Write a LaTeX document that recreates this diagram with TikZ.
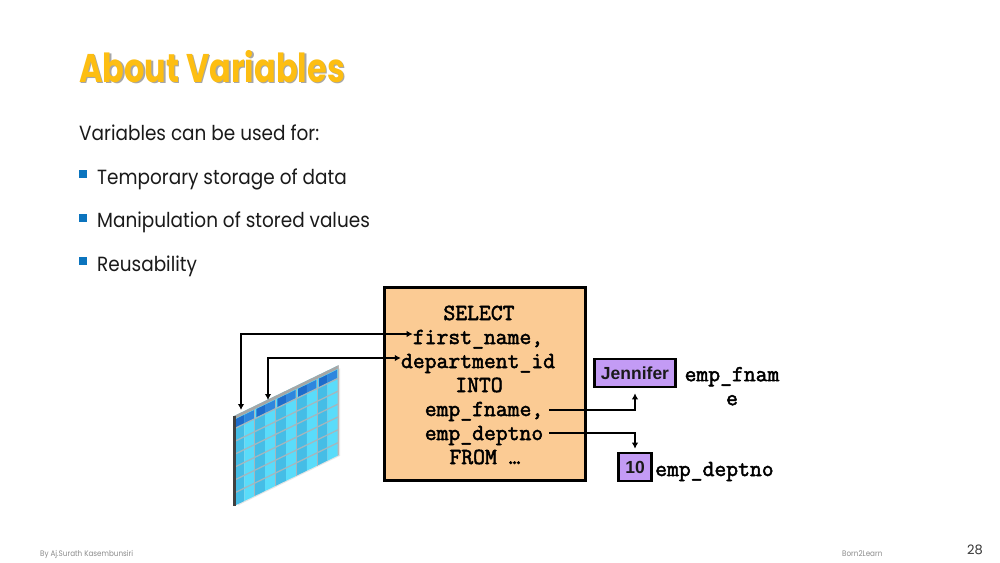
\documentclass[tikz,border=0pt]{standalone}
\usepackage{fontspec}
\setmainfont{Poppins}
\newfontfamily\arialfont{Liberation Sans}
\newfontfamily\narrowbody[FakeStretch=0.9]{Poppins}
\newfontfamily\narrowtitle[FakeStretch=0.8]{Poppins}
\newfontfamily\codefont[FakeBold=2.2]{Latin Modern Mono}
\usetikzlibrary{arrows.meta}
\definecolor{titlegold}{HTML}{FDBE12}
\definecolor{boxorange}{HTML}{FBCB94}
\definecolor{boxpurple}{HTML}{C39BF5}
\definecolor{bulletblue}{HTML}{0B74BE}
\definecolor{inkdark}{HTML}{1A1A1A}
\definecolor{cellA}{HTML}{45BDE6}
\definecolor{cellB}{HTML}{5ADCFA}
\definecolor{headA}{HTML}{1E6CCB}
\definecolor{headB}{HTML}{2E86DE}
\definecolor{gridgrey}{HTML}{A4B6BE}
\newcommand{\quadfill}[5]{\fill[#1] (#2,#4) -- (#3,#4) -- (#3,#5) -- (#2,#5) -- cycle;}
\tikzset{
  x=1pt,y=-1pt,
  bodytext/.style={anchor=base west,inner sep=0pt,text=inkdark,font=\narrowbody\fontsize{20.5}{20.5}\selectfont},
  bulletmark/.style={fill=bulletblue,draw=none,minimum size=7.5pt,inner sep=0pt},
  codeline/.style={inner sep=0pt,text height=12pt,text depth=4pt,font=\codefont\fontsize{23}{23}\selectfont,text=black},
  valuebox/.style={draw=black,line width=2.6pt,fill=boxpurple,inner sep=0pt,font=\arialfont\bfseries\fontsize{17.5}{17.5}\selectfont,text=inkdark},
  link/.style={draw=black,line width=2.8pt},
  tiplink/.style={link,-{Latex[length=6pt,width=6.5pt]}},
  bothlink/.style={link,{Latex[length=6pt,width=6.5pt]}-{Latex[length=6pt,width=6.5pt]}},
  footer/.style={anchor=base west,inner sep=0pt,text=black!45,font=\narrowbody\fontsize{8}{8}\selectfont},
  gridline/.style={draw=gridgrey,line width=1.3pt},
}
\begin{document}
\begin{tikzpicture}
\useasboundingbox (0,0) rectangle (1000,562);
\fill[white] (0,0) rectangle (1000,562);
% title
\node[anchor=base west,inner sep=0pt,text=black!35,font=\narrowtitle\bfseries\fontsize{40}{40}\selectfont] (titleshadow) at (80.5,83.5) {About Variables};
\node[anchor=base west,inner sep=0pt,text=titlegold,font=\narrowtitle\bfseries\fontsize{40}{40}\selectfont] (title) at (79,82) {About Variables};
% body
\node[bodytext] (intro) at (79,140) {Variables can be used for:};
\node[bulletmark] (b1) at (83,174) {};
\node[bodytext] (t1) at (97,184) {Temporary storage of data};
\node[bulletmark] (b2) at (83,218) {};
\node[bodytext] (t2) at (97,227) {Manipulation of stored values};
\node[bulletmark] (b3) at (83,261) {};
\node[bodytext] (t3) at (97,271) {Reusability};
% SQL box
\node[draw=black,line width=3pt,fill=boxorange,minimum width=201pt,minimum height=193pt,inner sep=0pt] (sqlbox) at (484.5,383.5) {};
% table
\begin{scope}[shift={(234,416)},x={(20.8pt,10.1pt)},y={(0pt,-12.86pt)}]
  \quadfill{black!10}{0.2}{5.1}{0.3}{7.1}
  \foreach \c in {0,...,4}{
    \pgfmathsetmacro{\cm}{\c+0.5}
    \pgfmathsetmacro{\ce}{\c+1}
    \pgfmathsetmacro{\hs}{\c+0.08}
    \pgfmathsetmacro{\he}{\c+0.96}
    \foreach \r in {1,...,6}{
      \pgfmathsetmacro{\re}{\r+1}
      \quadfill{cellA}{\c}{\cm}{\r}{\re}
      \quadfill{cellB}{\cm}{\ce}{\r}{\re}
    }
    \quadfill{cellB}{\c}{\ce}{0}{1}
    \quadfill{headA}{\hs}{\cm}{0.3}{0.97}
    \quadfill{headB}{\cm}{\he}{0.3}{0.97}
  }
  \foreach \c in {1,...,4}{\draw[gridline] (\c,0.15) -- (\c,7);}
  \foreach \r in {1,...,6}{\draw[gridline] (0,\r) -- (5,\r);}
  \quadfill{black!35}{0}{5}{0}{0.25}
  \quadfill{black!28}{4.98}{5.04}{0}{7}
  \draw[black!75,line width=3pt] (0,0) -- (0,7);
\end{scope}
\coordinate (colA) at (241,410);
\coordinate (colB) at (268,400);
% code
\node[codeline] (c1) at (479,316) {SELECT};
\node[codeline] (c2) at (478,340) {first\_name,};
\node[codeline] (c3) at (478,364) {department\_id};
\node[codeline] (c4) at (479,388) {INTO};
\node[codeline] (c5) at (484,412) {emp\_fname,};
\node[codeline] (c6) at (484,436) {emp\_deptno};
\node[codeline] (c7) at (485,460) {FROM …};
% anchors of connectors on the code lines
\coordinate (c2in) at (c2.west |- 0,334);
\coordinate (c3in) at (c3.west |- 0,358);
\coordinate (c5out) at (549,410);
\coordinate (c6out) at (549,433);
% values
\node[valuebox,minimum width=81pt,minimum height=28pt] (jen) at (635,373) {Jennifer};
\node[valuebox,minimum width=33pt,minimum height=28pt] (ten) at (635,467) {10};
\node[codeline,anchor=north] (vfa) at (732,369) {emp\_fnam};
\node[codeline,anchor=north] (vfb) at (732,393) {e};
\node[codeline,anchor=west] (vd) at (655,472) {emp\_deptno};
% connectors
\draw[bothlink] (colA) |- (c2in);
\draw[bothlink] (colB) |- (c3in);
\draw[tiplink,shorten >=5pt] (c5out) -| (jen.south);
\draw[tiplink,shorten >=3pt] (c6out) -| (ten.north);
% footer
\node[footer] (fl) at (40,556) {By Aj.Surath Kasembunsiri};
\node[footer] (fr) at (842,556) {Born2Learn};
\node[anchor=base east,inner sep=0pt,text=black!80,font=\fontsize{13}{13}\selectfont] (pg) at (983,554) {28};
\end{tikzpicture}
\end{document}
